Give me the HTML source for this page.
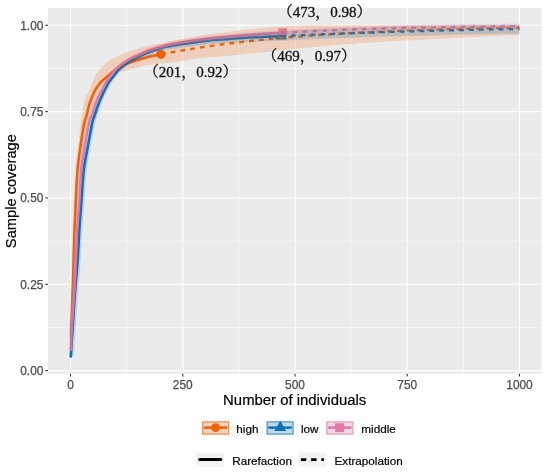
<!DOCTYPE html>
<html><head><meta charset="utf-8"><title>Sample coverage</title>
<style>html,body{margin:0;padding:0;background:#fff;overflow:hidden}svg{display:block}</style>
</head><body>
<svg width="550" height="472" viewBox="0 0 550 472">
<rect x="0" y="0" width="550" height="472" fill="#FFFFFF"/>
<defs><clipPath id="pc"><rect x="48" y="7.9" width="493.6" height="365.9"/></clipPath></defs>
<rect x="48" y="7.9" width="493.6" height="365.9" fill="#EBEBEB"/>
<g stroke="#FFFFFF" stroke-width="0.55"><line x1="48" y1="327.44" x2="541.6" y2="327.44"/><line x1="48" y1="241.11" x2="541.6" y2="241.11"/><line x1="48" y1="154.79" x2="541.6" y2="154.79"/><line x1="48" y1="68.46" x2="541.6" y2="68.46"/><line x1="126.62" y1="7.9" x2="126.62" y2="373.8"/><line x1="238.88" y1="7.9" x2="238.88" y2="373.8"/><line x1="351.12" y1="7.9" x2="351.12" y2="373.8"/><line x1="463.38" y1="7.9" x2="463.38" y2="373.8"/></g>
<g stroke="#FFFFFF" stroke-width="1.1"><line x1="48" y1="370.6" x2="541.6" y2="370.6"/><line x1="48" y1="284.28" x2="541.6" y2="284.28"/><line x1="48" y1="197.95" x2="541.6" y2="197.95"/><line x1="48" y1="111.62" x2="541.6" y2="111.62"/><line x1="48" y1="25.3" x2="541.6" y2="25.3"/><line x1="70.5" y1="7.9" x2="70.5" y2="373.8"/><line x1="182.75" y1="7.9" x2="182.75" y2="373.8"/><line x1="295" y1="7.9" x2="295" y2="373.8"/><line x1="407.25" y1="7.9" x2="407.25" y2="373.8"/><line x1="519.5" y1="7.9" x2="519.5" y2="373.8"/></g>
<g clip-path="url(#pc)">
<circle cx="161" cy="54.32" r="4.6" fill="#F56000"/>
<polygon points="281,29.31 286.93,39.57 275.07,39.57" fill="#0873BE"/>
<rect x="278.4" y="28.3" width="8.6" height="8.6" fill="#E678A5"/>
<path d="M71,338 C71.05,336 71.02,334 71.3,326 C71.58,318 72.32,301 72.7,290 C73.08,279 73.3,270 73.6,260 C73.9,250 74.13,240 74.5,230 C74.87,220 75.3,210 75.8,200 C76.3,190 76.68,179.17 77.5,170 C78.32,160.83 79.6,152.67 80.7,145 C81.8,137.33 83.13,128.83 84.1,124 C85.07,119.17 85.6,119.33 86.5,116 C87.4,112.67 88.22,108 89.5,104 C90.78,100 93,94.7 94.2,92 C95.4,89.3 95.6,89.43 96.7,87.8 C97.8,86.17 99.45,83.73 100.8,82.2 C102.15,80.67 103.48,79.75 104.8,78.6 C106.12,77.45 107.42,76.42 108.7,75.3 C109.98,74.18 111.07,73.07 112.5,71.9 C113.93,70.73 115.88,69.3 117.3,68.3 C118.72,67.3 119.55,66.65 121,65.9 C122.45,65.15 124.5,64.37 126,63.8 C127.5,63.23 128.33,63.03 130,62.5 C131.67,61.97 133.83,61.27 136,60.6 C138.17,59.93 140.67,59.18 143,58.5 C145.33,57.82 147.83,57.05 150,56.5 C152.17,55.95 154.17,55.56 156,55.2 C157.83,54.84 160.17,54.46 161,54.32" fill="none" stroke="#F56000" stroke-width="2.6" stroke-linejoin="round" stroke-linecap="round"/>
<path d="M70.8,356.5 C70.92,354.58 71.17,350.08 71.5,345 C71.83,339.92 72.18,335.17 72.8,326 C73.42,316.83 74.38,301 75.2,290 C76.02,279 77.02,270 77.7,260 C78.38,250 78.67,240 79.3,230 C79.93,220 80.75,210 81.5,200 C82.25,190 82.7,179.17 83.8,170 C84.9,160.83 86.67,153 88.1,145 C89.53,137 91.35,126.83 92.4,122 C93.45,117.17 93.38,119 94.4,116 C95.42,113 97.03,107.83 98.5,104 C99.97,100.17 101.95,95.75 103.2,93 C104.45,90.25 105.03,89.33 106,87.5 C106.97,85.67 107.72,83.92 109,82 C110.28,80.08 112.13,78 113.7,76 C115.27,74 116.68,71.75 118.4,70 C120.12,68.25 122.07,66.95 124,65.5 C125.93,64.05 128,62.55 130,61.3 C132,60.05 132.67,59.57 136,58 C139.33,56.43 145.17,53.73 150,51.9 C154.83,50.07 159.17,48.37 165,47 C170.83,45.63 178.33,44.72 185,43.7 C191.67,42.68 198.33,41.63 205,40.9 C211.67,40.17 218.33,39.82 225,39.3 C231.67,38.78 238.33,38.22 245,37.8 C251.67,37.38 259,37.08 265,36.8 C271,36.52 278.33,36.26 281,36.15" fill="none" stroke="#0873BE" stroke-width="2.6" stroke-linejoin="round" stroke-linecap="round"/>
<path d="M71,350 C71.15,346 71.32,336 71.9,326 C72.48,316 73.85,301 74.5,290 C75.15,279 75.37,270 75.8,260 C76.23,250 76.5,240 77.1,230 C77.7,220 78.72,210 79.4,200 C80.08,190 80.27,179.17 81.2,170 C82.13,160.83 83.58,153.33 85,145 C86.42,136.67 88.6,124.83 89.7,120 C90.8,115.17 90.65,118.67 91.6,116 C92.55,113.33 93.93,107.83 95.4,104 C96.87,100.17 99.05,95.75 100.4,93 C101.75,90.25 102.5,89.33 103.5,87.5 C104.5,85.67 105.32,83.83 106.4,82 C107.48,80.17 108.55,78.5 110,76.5 C111.45,74.5 113.6,71.67 115.1,70 C116.6,68.33 117.52,67.73 119,66.5 C120.48,65.27 122.17,63.87 124,62.6 C125.83,61.33 128,60 130,58.9 C132,57.8 132.67,57.48 136,56 C139.33,54.52 146,51.5 150,50 C154,48.5 156.67,47.9 160,47 C163.33,46.1 165.83,45.47 170,44.6 C174.17,43.73 179.17,42.73 185,41.8 C190.83,40.87 198.33,39.8 205,39 C211.67,38.2 218.33,37.62 225,37 C231.67,36.38 238.33,35.83 245,35.3 C251.67,34.77 258.72,34.22 265,33.8 C271.28,33.38 279.75,32.97 282.7,32.8" fill="none" stroke="#E678A5" stroke-width="2.6" stroke-linejoin="round" stroke-linecap="round"/>
<path d="M161,54.32 L163,53.93 L165,53.54 L167,53.16 L169,52.79 L171,52.41 L173,52.05 L175,51.69 L177,51.33 L179,50.98 L181,50.63 L183,50.29 L185,49.95 L187,49.61 L189,49.28 L191,48.96 L193,48.64 L195,48.32 L197,48.01 L199,47.7 L201,47.39 L203,47.09 L205,46.79 L207,46.5 L209,46.21 L211,45.92 L213,45.64 L215,45.36 L217,45.09 L219,44.82 L221,44.55 L223,44.29 L225,44.03 L227,43.77 L229,43.52 L231,43.27 L233,43.02 L235,42.78 L237,42.54 L239,42.3 L241,42.07 L243,41.84 L245,41.61 L247,41.39 L249,41.17 L251,40.95 L253,40.73 L255,40.52 L257,40.31 L259,40.11 L261,39.9 L263,39.7 L265,39.5 L267,39.31 L269,39.11 L271,38.92 L273,38.74 L275,38.55 L277,38.37 L279,38.19 L281,38.01 L283,37.83 L285,37.66 L287,37.49 L289,37.32 L291,37.16 L293,36.99 L295,36.83 L297,36.67 L299,36.51 L301,36.36 L303,36.21 L305,36.06 L307,35.91 L309,35.76 L311,35.62 L313,35.47 L315,35.33 L317,35.19 L319,35.06 L321,34.92 L323,34.79 L325,34.66 L327,34.53 L329,34.4 L331,34.28 L333,34.15 L335,34.03 L337,33.91 L339,33.79 L341,33.67 L343,33.56 L345,33.44 L347,33.33 L349,33.22 L351,33.11 L353,33 L355,32.89 L357,32.79 L359,32.68 L361,32.58 L363,32.48 L365,32.38 L367,32.28 L369,32.19 L371,32.09 L373,32 L375,31.9 L377,31.81 L379,31.72 L381,31.63 L383,31.55 L385,31.46 L387,31.37 L389,31.29 L391,31.21 L393,31.12 L395,31.04 L397,30.96 L399,30.89 L401,30.81 L403,30.73 L405,30.66 L407,30.58 L409,30.51 L411,30.44 L413,30.36 L415,30.29 L417,30.23 L419,30.16 L421,30.09 L423,30.02 L425,29.96 L427,29.89 L429,29.83 L431,29.77 L433,29.7 L435,29.64 L437,29.58 L439,29.52 L441,29.47 L443,29.41 L445,29.35 L447,29.29 L449,29.24 L451,29.18 L453,29.13 L455,29.08 L457,29.02 L459,28.97 L461,28.92 L463,28.87 L465,28.82 L467,28.77 L469,28.72 L471,28.68 L473,28.63 L475,28.58 L477,28.54 L479,28.49 L481,28.45 L483,28.41 L485,28.36 L487,28.32 L489,28.28 L491,28.24 L493,28.2 L495,28.16 L497,28.12 L499,28.08 L501,28.04 L503,28 L505,27.96 L507,27.93 L509,27.89 L511,27.85 L513,27.82 L515,27.78 L517,27.75 L519,27.71 L519.5,27.71" fill="none" stroke="#F56000" stroke-width="2.4" stroke-dasharray="4.8 5.1" stroke-linejoin="round"/>
<path d="M281,36.15 L283,36.05 L285,35.95 L287,35.86 L289,35.76 L291,35.67 L293,35.57 L295,35.48 L297,35.39 L299,35.29 L301,35.2 L303,35.11 L305,35.02 L307,34.94 L309,34.85 L311,34.76 L313,34.67 L315,34.59 L317,34.51 L319,34.42 L321,34.34 L323,34.26 L325,34.17 L327,34.09 L329,34.01 L331,33.93 L333,33.86 L335,33.78 L337,33.7 L339,33.63 L341,33.55 L343,33.47 L345,33.4 L347,33.33 L349,33.25 L351,33.18 L353,33.11 L355,33.04 L357,32.97 L359,32.9 L361,32.83 L363,32.76 L365,32.69 L367,32.63 L369,32.56 L371,32.49 L373,32.43 L375,32.36 L377,32.3 L379,32.24 L381,32.17 L383,32.11 L385,32.05 L387,31.99 L389,31.93 L391,31.87 L393,31.81 L395,31.75 L397,31.69 L399,31.63 L401,31.57 L403,31.52 L405,31.46 L407,31.4 L409,31.35 L411,31.29 L413,31.24 L415,31.18 L417,31.13 L419,31.08 L421,31.02 L423,30.97 L425,30.92 L427,30.87 L429,30.82 L431,30.77 L433,30.72 L435,30.67 L437,30.62 L439,30.57 L441,30.53 L443,30.48 L445,30.43 L447,30.38 L449,30.34 L451,30.29 L453,30.25 L455,30.2 L457,30.16 L459,30.11 L461,30.07 L463,30.03 L465,29.98 L467,29.94 L469,29.9 L471,29.86 L473,29.81 L475,29.77 L477,29.73 L479,29.69 L481,29.65 L483,29.61 L485,29.57 L487,29.54 L489,29.5 L491,29.46 L493,29.42 L495,29.38 L497,29.35 L499,29.31 L501,29.27 L503,29.24 L505,29.2 L507,29.17 L509,29.13 L511,29.1 L513,29.06 L515,29.03 L517,28.99 L519,28.96 L519.5,28.95" fill="none" stroke="#0873BE" stroke-width="2.4" stroke-dasharray="4.8 5.1" stroke-linejoin="round"/>
<path d="M282.7,32.8 L284.7,32.67 L286.7,32.55 L288.7,32.43 L290.7,32.31 L292.7,32.19 L294.7,32.07 L296.7,31.96 L298.7,31.85 L300.7,31.74 L302.7,31.63 L304.7,31.52 L306.7,31.42 L308.7,31.32 L310.7,31.22 L312.7,31.12 L314.7,31.02 L316.7,30.92 L318.7,30.83 L320.7,30.74 L322.7,30.64 L324.7,30.55 L326.7,30.47 L328.7,30.38 L330.7,30.29 L332.7,30.21 L334.7,30.13 L336.7,30.05 L338.7,29.97 L340.7,29.89 L342.7,29.81 L344.7,29.74 L346.7,29.66 L348.7,29.59 L350.7,29.52 L352.7,29.45 L354.7,29.38 L356.7,29.31 L358.7,29.24 L360.7,29.17 L362.7,29.11 L364.7,29.05 L366.7,28.98 L368.7,28.92 L370.7,28.86 L372.7,28.8 L374.7,28.74 L376.7,28.68 L378.7,28.63 L380.7,28.57 L382.7,28.52 L384.7,28.46 L386.7,28.41 L388.7,28.36 L390.7,28.31 L392.7,28.25 L394.7,28.21 L396.7,28.16 L398.7,28.11 L400.7,28.06 L402.7,28.02 L404.7,27.97 L406.7,27.92 L408.7,27.88 L410.7,27.84 L412.7,27.79 L414.7,27.75 L416.7,27.71 L418.7,27.67 L420.7,27.63 L422.7,27.59 L424.7,27.55 L426.7,27.52 L428.7,27.48 L430.7,27.44 L432.7,27.41 L434.7,27.37 L436.7,27.34 L438.7,27.3 L440.7,27.27 L442.7,27.24 L444.7,27.2 L446.7,27.17 L448.7,27.14 L450.7,27.11 L452.7,27.08 L454.7,27.05 L456.7,27.02 L458.7,26.99 L460.7,26.96 L462.7,26.93 L464.7,26.91 L466.7,26.88 L468.7,26.85 L470.7,26.83 L472.7,26.8 L474.7,26.78 L476.7,26.75 L478.7,26.73 L480.7,26.7 L482.7,26.68 L484.7,26.66 L486.7,26.63 L488.7,26.61 L490.7,26.59 L492.7,26.57 L494.7,26.55 L496.7,26.53 L498.7,26.5 L500.7,26.48 L502.7,26.46 L504.7,26.44 L506.7,26.43 L508.7,26.41 L510.7,26.39 L512.7,26.37 L514.7,26.35 L516.7,26.33 L518.7,26.32 L519.5,26.31" fill="none" stroke="#E678A5" stroke-width="2.4" stroke-dasharray="4.8 5.1" stroke-linejoin="round"/>
<path d="M70.9,336 C71,330 71.23,312.67 71.5,300 C71.77,287.33 72.08,273.33 72.5,260 C72.92,246.67 73.42,235 74,220 C74.58,205 75.23,182.5 76,170 C76.77,157.5 77.73,153.33 78.6,145 C79.47,136.67 80.35,126.67 81.2,120 C82.05,113.33 82.95,108.83 83.7,105 C84.45,101.17 84.68,99.58 85.7,97 C86.72,94.42 88.38,92.62 89.8,89.5 C91.22,86.38 92.8,81.28 94.2,78.3 C95.6,75.32 96.57,73.85 98.2,71.6 C99.83,69.35 102.45,66.43 104,64.8 C105.55,63.17 106.33,62.67 107.5,61.8 C108.67,60.93 109.67,60.35 111,59.6 C112.33,58.85 113.85,58.08 115.5,57.3 C117.15,56.52 118.98,55.73 120.9,54.9 C122.82,54.07 124.65,53.18 127,52.3 C129.35,51.42 132,50.58 135,49.6 C138,48.62 141.67,47.27 145,46.4 C148.33,45.53 151.67,45.07 155,44.4 C158.33,43.73 160,43.38 165,42.4 C170,41.42 178.33,39.73 185,38.5 C191.67,37.27 198.33,36.05 205,35 C211.67,33.95 218.33,33.07 225,32.2 C231.67,31.33 238.33,30.53 245,29.8 C251.67,29.07 259.17,28.33 265,27.8 C270.83,27.27 274.17,26.97 280,26.6 C285.83,26.23 294.17,25.82 300,25.6 C305.83,25.38 278.42,25.35 315,25.3 C351.58,25.25 485.42,25.3 519.5,25.3 L519.5,35 C515.42,35.15 507.42,35.33 495,35.9 C482.58,36.47 459.17,37.67 445,38.4 C430.83,39.13 422.5,39.6 410,40.3 C397.5,41 383.33,41.68 370,42.6 C356.67,43.52 340,45 330,45.8 C320,46.6 316.67,46.83 310,47.4 C303.33,47.97 296.67,48.53 290,49.2 C283.33,49.87 276.67,50.67 270,51.4 C263.33,52.13 257.5,52.82 250,53.6 C242.5,54.38 233.33,55.33 225,56.1 C216.67,56.87 206.67,57.48 200,58.2 C193.33,58.92 190,59.67 185,60.4 C180,61.13 174.67,62 170,62.6 C165.33,63.2 161.17,63.5 157,64 C152.83,64.5 148.67,64.83 145,65.6 C141.33,66.37 138,67.83 135,68.6 C132,69.37 129.25,69.7 127,70.2 C124.75,70.7 123.25,71.43 121.5,71.6 C119.75,71.77 118.7,70.38 116.5,71.2 C114.3,72.02 110.27,74.7 108.3,76.5 C106.33,78.3 105.78,80.17 104.7,82 C103.62,83.83 102.8,85.67 101.8,87.5 C100.8,89.33 100.05,90.25 98.7,93 C97.35,95.75 95.17,100.17 93.7,104 C92.23,107.83 90.85,113.33 89.9,116 C88.95,118.67 89.1,115.17 88,120 C86.9,124.83 84.72,136.67 83.3,145 C81.88,153.33 80.43,160.83 79.5,170 C78.57,179.17 78.38,190 77.7,200 C77.02,210 76,220 75.4,230 C74.8,240 74.53,250 74.1,260 C73.67,270 73.45,279 72.8,290 C72.15,301 70.5,316.83 70.2,326 C69.9,335.17 70.87,341.83 71,345 Z" fill="#F56000" fill-opacity="0.2" stroke="none"/>
<path d="M69.4,356.5 C69.52,354.58 69.77,350.08 70.1,345 C70.43,339.92 70.78,335.17 71.4,326 C72.02,316.83 72.98,301 73.8,290 C74.62,279 75.62,270 76.3,260 C76.98,250 77.27,240 77.9,230 C78.53,220 79.35,210 80.1,200 C80.85,190 81.3,179.17 82.4,170 C83.5,160.83 85.27,153 86.7,145 C88.13,137 89.95,126.83 91,122 C92.05,117.17 91.98,119 93,116 C94.02,113 95.63,107.83 97.1,104 C98.57,100.17 100.55,95.75 101.8,93 C103.05,90.25 103.63,89.33 104.6,87.5 C105.57,85.67 106.3,83.96 107.6,82 C108.9,80.04 110.81,77.85 112.43,75.76 C114.05,73.67 115.52,71.32 117.29,69.45 C119.07,67.59 121.09,66.17 123.09,64.59 C125.09,63.01 127.23,61.38 129.3,60 C131.37,58.62 132.06,58.09 135.51,56.31 C138.96,54.53 145.09,51.28 150,49.3 C154.91,47.31 159.17,45.85 165,44.4 C170.83,42.95 178.33,41.77 185,40.6 C191.67,39.43 198.33,38.27 205,37.4 C211.67,36.53 218.33,36.02 225,35.4 C231.67,34.78 238.33,34.23 245,33.7 C251.67,33.17 259,32.6 265,32.2 C271,31.8 278,31.46 281,31.29 C284,31.12 282.33,31.22 283,31.18 C283.67,31.14 284.33,31.1 285,31.05 C285.67,31.01 286.33,30.97 287,30.93 C287.67,30.89 288.33,30.85 289,30.81 C289.67,30.77 290.33,30.73 291,30.69 C291.67,30.65 292.33,30.61 293,30.57 C293.67,30.53 294.33,30.5 295,30.46 C295.67,30.42 296.33,30.38 297,30.34 C297.67,30.31 298.33,30.27 299,30.23 C299.67,30.2 300.33,30.16 301,30.12 C301.67,30.09 302.33,30.05 303,30.01 C303.67,29.98 304.33,29.94 305,29.91 C305.67,29.87 306.33,29.84 307,29.8 C307.67,29.77 308.33,29.74 309,29.7 C309.67,29.67 310.33,29.63 311,29.6 C311.67,29.57 312.33,29.53 313,29.5 C313.67,29.47 314.33,29.44 315,29.4 C315.67,29.37 316.33,29.34 317,29.31 C317.67,29.28 318.33,29.25 319,29.21 C319.67,29.18 320.33,29.15 321,29.12 C321.67,29.09 322.33,29.06 323,29.03 C323.67,29 324.33,28.97 325,28.94 C325.67,28.91 326.33,28.88 327,28.85 C327.67,28.82 328.33,28.8 329,28.77 C329.67,28.74 330.33,28.71 331,28.68 C331.67,28.65 332.33,28.63 333,28.6 C333.67,28.57 334.33,28.54 335,28.52 C335.67,28.49 336.33,28.46 337,28.44 C337.67,28.41 338.33,28.38 339,28.36 C339.67,28.33 340.33,28.3 341,28.28 C341.67,28.25 342.33,28.23 343,28.2 C343.67,28.18 344.33,28.15 345,28.13 C345.67,28.1 346.33,28.08 347,28.05 C347.67,28.03 348.33,28 349,27.98 C349.67,27.95 350.33,27.93 351,27.91 C351.67,27.88 352.33,27.86 353,27.84 C353.67,27.81 354.33,27.79 355,27.77 C355.67,27.74 356.33,27.72 357,27.7 C357.67,27.68 358.33,27.65 359,27.63 C359.67,27.61 360.33,27.59 361,27.56 C361.67,27.54 362.33,27.52 363,27.5 C363.67,27.48 364.33,27.46 365,27.44 C365.67,27.41 366.33,27.39 367,27.37 C367.67,27.35 368.33,27.33 369,27.31 C369.67,27.29 370.33,27.27 371,27.25 C371.67,27.23 372.33,27.21 373,27.19 C373.67,27.17 374.33,27.15 375,27.13 C375.67,27.11 376.33,27.09 377,27.08 C377.67,27.06 378.33,27.04 379,27.02 C379.67,27 380.33,26.98 381,26.96 C381.67,26.94 382.33,26.93 383,26.91 C383.67,26.89 384.33,26.87 385,26.85 C385.67,26.84 386.33,26.82 387,26.8 C387.67,26.78 388.33,26.77 389,26.75 C389.67,26.73 390.33,26.71 391,26.7 C391.67,26.68 392.33,26.66 393,26.65 C393.67,26.63 394.33,26.61 395,26.6 C395.67,26.58 396.33,26.57 397,26.55 C397.67,26.53 398.33,26.52 399,26.5 C399.67,26.49 400.33,26.47 401,26.45 C401.67,26.44 402.33,26.42 403,26.41 C403.67,26.39 404.33,26.38 405,26.36 C405.67,26.35 406.33,26.33 407,26.32 C407.67,26.3 408.33,26.29 409,26.27 C409.67,26.26 410.33,26.25 411,26.23 C411.67,26.22 412.33,26.2 413,26.19 C413.67,26.17 414.33,26.16 415,26.15 C415.67,26.13 416.33,26.12 417,26.11 C417.67,26.09 418.33,26.08 419,26.07 C419.67,26.05 420.33,26.04 421,26.03 C421.67,26.01 422.33,26 423,25.99 C423.67,25.97 424.33,25.96 425,25.95 C425.67,25.94 426.33,25.92 427,25.91 C427.67,25.9 428.33,25.89 429,25.87 C429.67,25.86 430.33,25.85 431,25.84 C431.67,25.82 432.33,25.81 433,25.8 C433.67,25.79 434.33,25.78 435,25.77 C435.67,25.75 436.33,25.74 437,25.73 C437.67,25.72 438.33,25.71 439,25.7 C439.67,25.69 440.33,25.67 441,25.66 C441.67,25.65 442.33,25.64 443,25.63 C443.67,25.62 444.33,25.61 445,25.6 C445.67,25.59 446.33,25.58 447,25.57 C447.67,25.56 448.33,25.55 449,25.53 C449.67,25.52 450.33,25.51 451,25.5 C451.67,25.49 452.33,25.48 453,25.47 C453.67,25.46 454.33,25.45 455,25.44 C455.67,25.43 456.33,25.42 457,25.41 C457.67,25.4 458.33,25.4 459,25.39 C459.67,25.38 460.33,25.37 461,25.36 C461.67,25.35 462.33,25.34 463,25.33 C463.67,25.32 464.33,25.31 465,25.3 C465.67,25.29 466.33,25.28 467,25.28 C467.67,25.27 468.33,25.26 469,25.25 C469.67,25.24 470.33,25.23 471,25.22 C471.67,25.21 472.33,25.21 473,25.2 C473.67,25.19 474.33,25.18 475,25.17 C475.67,25.16 476.33,25.16 477,25.15 C477.67,25.14 478.33,25.13 479,25.12 C479.67,25.12 480.33,25.11 481,25.1 C481.67,25.09 482.33,25.08 483,25.08 C483.67,25.07 484.33,25.06 485,25.05 C485.67,25.05 486.33,25.04 487,25.03 C487.67,25.02 488.33,25.02 489,25.01 C489.67,25 490.33,24.99 491,24.99 C491.67,24.98 492.33,24.97 493,24.96 C493.67,24.96 494.33,24.95 495,24.94 C495.67,24.94 496.33,24.93 497,24.92 C497.67,24.92 498.33,24.91 499,24.9 C499.67,24.89 500.33,24.89 501,24.88 C501.67,24.87 502.33,24.87 503,24.86 C503.67,24.86 504.33,24.85 505,24.84 C505.67,24.84 506.33,24.83 507,24.82 C507.67,24.82 508.33,24.81 509,24.8 C509.67,24.8 510.33,24.79 511,24.79 C511.67,24.78 512.33,24.77 513,24.77 C513.67,24.76 514.33,24.76 515,24.75 C515.67,24.74 516.33,24.74 517,24.73 C517.67,24.73 518.58,24.72 519,24.71 C519.42,24.71 519.42,24.71 519.5,24.71 L519.5,33.55 C519.42,33.55 519.42,33.55 519,33.56 C518.58,33.57 517.67,33.58 517,33.59 C516.33,33.6 515.67,33.62 515,33.63 C514.33,33.64 513.67,33.65 513,33.66 C512.33,33.67 511.67,33.68 511,33.7 C510.33,33.71 509.67,33.72 509,33.73 C508.33,33.74 507.67,33.75 507,33.77 C506.33,33.78 505.67,33.79 505,33.8 C504.33,33.81 503.67,33.82 503,33.84 C502.33,33.85 501.67,33.86 501,33.87 C500.33,33.88 499.67,33.9 499,33.91 C498.33,33.92 497.67,33.93 497,33.95 C496.33,33.96 495.67,33.97 495,33.98 C494.33,34 493.67,34.01 493,34.02 C492.33,34.03 491.67,34.05 491,34.06 C490.33,34.07 489.67,34.08 489,34.1 C488.33,34.11 487.67,34.12 487,34.14 C486.33,34.15 485.67,34.16 485,34.17 C484.33,34.19 483.67,34.2 483,34.21 C482.33,34.23 481.67,34.24 481,34.25 C480.33,34.27 479.67,34.28 479,34.29 C478.33,34.31 477.67,34.32 477,34.33 C476.33,34.35 475.67,34.36 475,34.37 C474.33,34.39 473.67,34.4 473,34.41 C472.33,34.43 471.67,34.44 471,34.46 C470.33,34.47 469.67,34.48 469,34.5 C468.33,34.51 467.67,34.53 467,34.54 C466.33,34.55 465.67,34.57 465,34.58 C464.33,34.6 463.67,34.61 463,34.63 C462.33,34.64 461.67,34.65 461,34.67 C460.33,34.68 459.67,34.7 459,34.71 C458.33,34.73 457.67,34.74 457,34.76 C456.33,34.77 455.67,34.79 455,34.8 C454.33,34.82 453.67,34.83 453,34.85 C452.33,34.86 451.67,34.88 451,34.89 C450.33,34.91 449.67,34.92 449,34.94 C448.33,34.95 447.67,34.97 447,34.98 C446.33,35 445.67,35.01 445,35.03 C444.33,35.05 443.67,35.06 443,35.08 C442.33,35.09 441.67,35.11 441,35.13 C440.33,35.14 439.67,35.16 439,35.17 C438.33,35.19 437.67,35.21 437,35.22 C436.33,35.24 435.67,35.25 435,35.27 C434.33,35.29 433.67,35.3 433,35.32 C432.33,35.34 431.67,35.35 431,35.37 C430.33,35.39 429.67,35.4 429,35.42 C428.33,35.44 427.67,35.45 427,35.47 C426.33,35.49 425.67,35.5 425,35.52 C424.33,35.54 423.67,35.56 423,35.57 C422.33,35.59 421.67,35.61 421,35.62 C420.33,35.64 419.67,35.66 419,35.68 C418.33,35.69 417.67,35.71 417,35.73 C416.33,35.75 415.67,35.77 415,35.78 C414.33,35.8 413.67,35.82 413,35.84 C412.33,35.86 411.67,35.87 411,35.89 C410.33,35.91 409.67,35.93 409,35.95 C408.33,35.97 407.67,35.98 407,36 C406.33,36.02 405.67,36.04 405,36.06 C404.33,36.08 403.67,36.1 403,36.12 C402.33,36.13 401.67,36.15 401,36.17 C400.33,36.19 399.67,36.21 399,36.23 C398.33,36.25 397.67,36.27 397,36.29 C396.33,36.31 395.67,36.33 395,36.35 C394.33,36.37 393.67,36.39 393,36.41 C392.33,36.43 391.67,36.45 391,36.47 C390.33,36.49 389.67,36.51 389,36.53 C388.33,36.55 387.67,36.57 387,36.59 C386.33,36.61 385.67,36.63 385,36.65 C384.33,36.67 383.67,36.69 383,36.71 C382.33,36.73 381.67,36.75 381,36.77 C380.33,36.79 379.67,36.81 379,36.84 C378.33,36.86 377.67,36.88 377,36.9 C376.33,36.92 375.67,36.94 375,36.96 C374.33,36.98 373.67,37.01 373,37.03 C372.33,37.05 371.67,37.07 371,37.09 C370.33,37.12 369.67,37.14 369,37.16 C368.33,37.18 367.67,37.2 367,37.23 C366.33,37.25 365.67,37.27 365,37.29 C364.33,37.32 363.67,37.34 363,37.36 C362.33,37.38 361.67,37.41 361,37.43 C360.33,37.45 359.67,37.48 359,37.5 C358.33,37.52 357.67,37.54 357,37.57 C356.33,37.59 355.67,37.62 355,37.64 C354.33,37.66 353.67,37.69 353,37.71 C352.33,37.73 351.67,37.76 351,37.78 C350.33,37.81 349.67,37.83 349,37.85 C348.33,37.88 347.67,37.9 347,37.93 C346.33,37.95 345.67,37.98 345,38 C344.33,38.02 343.67,38.05 343,38.07 C342.33,38.1 341.67,38.12 341,38.15 C340.33,38.17 339.67,38.2 339,38.23 C338.33,38.25 337.67,38.28 337,38.3 C336.33,38.33 335.67,38.35 335,38.38 C334.33,38.4 333.67,38.43 333,38.46 C332.33,38.48 331.67,38.51 331,38.53 C330.33,38.56 329.67,38.59 329,38.61 C328.33,38.64 327.67,38.67 327,38.69 C326.33,38.72 325.67,38.75 325,38.77 C324.33,38.8 323.67,38.83 323,38.86 C322.33,38.88 321.67,38.91 321,38.94 C320.33,38.97 319.67,38.99 319,39.02 C318.33,39.05 317.67,39.08 317,39.11 C316.33,39.13 315.67,39.16 315,39.19 C314.33,39.22 313.67,39.25 313,39.27 C312.33,39.3 311.67,39.33 311,39.36 C310.33,39.39 309.67,39.42 309,39.45 C308.33,39.48 307.67,39.51 307,39.54 C306.33,39.56 305.67,39.59 305,39.62 C304.33,39.65 303.67,39.68 303,39.71 C302.33,39.74 301.67,39.77 301,39.8 C300.33,39.83 299.67,39.86 299,39.89 C298.33,39.92 297.67,39.95 297,39.99 C296.33,40.02 295.67,40.05 295,40.08 C294.33,40.11 293.67,40.14 293,40.17 C292.33,40.2 291.67,40.23 291,40.27 C290.33,40.3 289.67,40.33 289,40.36 C288.33,40.39 287.67,40.42 287,40.46 C286.33,40.49 285.67,40.52 285,40.55 C284.33,40.59 283.67,40.62 283,40.65 C282.33,40.68 284,40.64 281,40.75 C278,40.86 271,41.11 265,41.33 C259,41.55 251.67,41.74 245,42.07 C238.33,42.39 231.67,42.87 225,43.3 C218.33,43.73 211.67,43.99 205,44.63 C198.33,45.28 191.67,46.24 185,47.17 C178.33,48.09 170.83,48.91 165,50.2 C159.17,51.49 154.66,53.27 150,54.9 C145.34,56.52 140.13,58.63 137.05,59.95 C133.97,61.27 133.35,61.7 131.5,62.8 C129.65,63.9 127.74,65.25 125.95,66.55 C124.16,67.85 122.36,69.01 120.77,70.63 C119.18,72.25 117.88,74.38 116.42,76.28 C114.96,78.17 113.24,80.13 112,82 C110.76,83.87 109.97,85.67 109,87.5 C108.03,89.33 107.45,90.25 106.2,93 C104.95,95.75 102.97,100.17 101.5,104 C100.03,107.83 98.42,113 97.4,116 C96.38,119 96.45,117.17 95.4,122 C94.35,126.83 92.53,137 91.1,145 C89.67,153 87.9,160.83 86.8,170 C85.7,179.17 85.25,190 84.5,200 C83.75,210 82.93,220 82.3,230 C81.67,240 81.38,250 80.7,260 C80.02,270 79.02,279 78.2,290 C77.38,301 76.42,316.83 75.8,326 C75.18,335.17 74.83,339.92 74.5,345 C74.17,350.08 73.92,354.58 73.8,356.5 Z" fill="#0873BE" fill-opacity="0.2" stroke="none"/>
<path d="M68.6,350 C68.75,346 68.92,336 69.5,326 C70.08,316 71.45,301 72.1,290 C72.75,279 72.97,270 73.4,260 C73.83,250 74.1,240 74.7,230 C75.3,220 76.32,210 77,200 C77.68,190 77.87,179.17 78.8,170 C79.73,160.83 81.18,153.33 82.6,145 C84.02,136.67 86.2,124.83 87.3,120 C88.4,115.17 88.25,118.67 89.2,116 C90.15,113.33 91.53,107.83 93,104 C94.47,100.17 96.65,95.75 98,93 C99.35,90.25 100.1,89.33 101.1,87.5 C102.1,85.67 102.92,83.83 104,82 C105.08,80.17 106.1,78.56 107.6,76.5 C109.1,74.44 111.42,71.41 113.01,69.64 C114.6,67.87 115.57,67.21 117.14,65.87 C118.71,64.53 120.5,63.02 122.44,61.62 C124.38,60.23 126.68,58.74 128.8,57.5 C130.92,56.26 131.63,55.9 135.16,54.18 C138.69,52.46 145.86,48.86 150,47.2 C154.14,45.54 156.67,45.1 160,44.2 C163.33,43.3 165.83,42.67 170,41.8 C174.17,40.93 179.17,39.93 185,39 C190.83,38.07 198.33,37 205,36.2 C211.67,35.4 218.33,34.82 225,34.2 C231.67,33.58 238.33,33.03 245,32.5 C251.67,31.97 258.72,31.42 265,31 C271.28,30.58 279.42,30.19 282.7,30 C285.98,29.81 284.03,29.91 284.7,29.87 C285.37,29.83 286.03,29.79 286.7,29.75 C287.37,29.71 288.03,29.67 288.7,29.63 C289.37,29.59 290.03,29.55 290.7,29.51 C291.37,29.47 292.03,29.43 292.7,29.39 C293.37,29.35 294.03,29.31 294.7,29.27 C295.37,29.24 296.03,29.2 296.7,29.16 C297.37,29.12 298.03,29.09 298.7,29.05 C299.37,29.01 300.03,28.98 300.7,28.94 C301.37,28.9 302.03,28.87 302.7,28.83 C303.37,28.79 304.03,28.76 304.7,28.72 C305.37,28.69 306.03,28.65 306.7,28.62 C307.37,28.59 308.03,28.55 308.7,28.52 C309.37,28.48 310.03,28.45 310.7,28.42 C311.37,28.38 312.03,28.35 312.7,28.32 C313.37,28.28 314.03,28.25 314.7,28.22 C315.37,28.19 316.03,28.15 316.7,28.12 C317.37,28.09 318.03,28.06 318.7,28.03 C319.37,28 320.03,27.97 320.7,27.94 C321.37,27.91 322.03,27.87 322.7,27.84 C323.37,27.81 324.03,27.78 324.7,27.75 C325.37,27.73 326.03,27.7 326.7,27.67 C327.37,27.64 328.03,27.61 328.7,27.58 C329.37,27.55 330.03,27.52 330.7,27.49 C331.37,27.47 332.03,27.44 332.7,27.41 C333.37,27.38 334.03,27.36 334.7,27.33 C335.37,27.3 336.03,27.27 336.7,27.25 C337.37,27.22 338.03,27.19 338.7,27.17 C339.37,27.14 340.03,27.12 340.7,27.09 C341.37,27.06 342.03,27.04 342.7,27.01 C343.37,26.99 344.03,26.96 344.7,26.94 C345.37,26.91 346.03,26.89 346.7,26.86 C347.37,26.84 348.03,26.81 348.7,26.79 C349.37,26.76 350.03,26.74 350.7,26.72 C351.37,26.69 352.03,26.67 352.7,26.65 C353.37,26.62 354.03,26.6 354.7,26.58 C355.37,26.55 356.03,26.53 356.7,26.51 C357.37,26.49 358.03,26.46 358.7,26.44 C359.37,26.42 360.03,26.4 360.7,26.37 C361.37,26.35 362.03,26.33 362.7,26.31 C363.37,26.29 364.03,26.27 364.7,26.25 C365.37,26.22 366.03,26.2 366.7,26.18 C367.37,26.16 368.03,26.14 368.7,26.12 C369.37,26.1 370.03,26.08 370.7,26.06 C371.37,26.04 372.03,26.02 372.7,26 C373.37,25.98 374.03,25.96 374.7,25.94 C375.37,25.92 376.03,25.9 376.7,25.88 C377.37,25.86 378.03,25.85 378.7,25.83 C379.37,25.81 380.03,25.79 380.7,25.77 C381.37,25.75 382.03,25.73 382.7,25.72 C383.37,25.7 384.03,25.68 384.7,25.66 C385.37,25.64 386.03,25.63 386.7,25.61 C387.37,25.59 388.03,25.57 388.7,25.56 C389.37,25.54 390.03,25.52 390.7,25.51 C391.37,25.49 392.03,25.47 392.7,25.45 C393.37,25.44 394.03,25.42 394.7,25.41 C395.37,25.39 396.03,25.37 396.7,25.36 C397.37,25.34 398.03,25.32 398.7,25.31 C399.37,25.29 400.03,25.28 400.7,25.26 C401.37,25.25 402.03,25.23 402.7,25.22 C403.37,25.2 404.03,25.18 404.7,25.17 C405.37,25.15 406.03,25.14 406.7,25.12 C407.37,25.11 408.03,25.1 408.7,25.08 C409.37,25.07 410.03,25.05 410.7,25.04 C411.37,25.02 412.03,25.01 412.7,24.99 C413.37,24.98 414.03,24.97 414.7,24.95 C415.37,24.94 416.03,24.93 416.7,24.91 C417.37,24.9 418.03,24.88 418.7,24.87 C419.37,24.86 420.03,24.84 420.7,24.83 C421.37,24.82 422.03,24.81 422.7,24.79 C423.37,24.78 424.03,24.77 424.7,24.75 C425.37,24.74 426.03,24.73 426.7,24.72 C427.37,24.7 428.03,24.69 428.7,24.68 C429.37,24.67 430.03,24.65 430.7,24.64 C431.37,24.63 432.03,24.62 432.7,24.61 C433.37,24.59 434.03,24.58 434.7,24.57 C435.37,24.56 436.03,24.55 436.7,24.54 C437.37,24.52 438.03,24.51 438.7,24.5 C439.37,24.49 440.03,24.48 440.7,24.47 C441.37,24.46 442.03,24.45 442.7,24.44 C443.37,24.42 444.03,24.41 444.7,24.4 C445.37,24.39 446.03,24.38 446.7,24.37 C447.37,24.36 448.03,24.35 448.7,24.34 C449.37,24.33 450.03,24.32 450.7,24.31 C451.37,24.3 452.03,24.29 452.7,24.28 C453.37,24.27 454.03,24.26 454.7,24.25 C455.37,24.24 456.03,24.23 456.7,24.22 C457.37,24.21 458.03,24.2 458.7,24.19 C459.37,24.18 460.03,24.17 460.7,24.16 C461.37,24.15 462.03,24.14 462.7,24.13 C463.37,24.12 464.03,24.12 464.7,24.11 C465.37,24.1 466.03,24.09 466.7,24.08 C467.37,24.07 468.03,24.06 468.7,24.05 C469.37,24.04 470.03,24.04 470.7,24.03 C471.37,24.02 472.03,24.01 472.7,24 C473.37,23.99 474.03,23.98 474.7,23.98 C475.37,23.97 476.03,23.96 476.7,23.95 C477.37,23.94 478.03,23.93 478.7,23.93 C479.37,23.92 480.03,23.91 480.7,23.9 C481.37,23.89 482.03,23.89 482.7,23.88 C483.37,23.87 484.03,23.86 484.7,23.86 C485.37,23.85 486.03,23.84 486.7,23.83 C487.37,23.83 488.03,23.82 488.7,23.81 C489.37,23.8 490.03,23.8 490.7,23.79 C491.37,23.78 492.03,23.77 492.7,23.77 C493.37,23.76 494.03,23.75 494.7,23.75 C495.37,23.74 496.03,23.73 496.7,23.73 C497.37,23.72 498.03,23.71 498.7,23.7 C499.37,23.7 500.03,23.69 500.7,23.68 C501.37,23.68 502.03,23.67 502.7,23.66 C503.37,23.66 504.03,23.65 504.7,23.64 C505.37,23.64 506.03,23.63 506.7,23.63 C507.37,23.62 508.03,23.61 508.7,23.61 C509.37,23.6 510.03,23.59 510.7,23.59 C511.37,23.58 512.03,23.58 512.7,23.57 C513.37,23.56 514.03,23.56 514.7,23.55 C515.37,23.55 516.03,23.54 516.7,23.53 C517.37,23.53 518.23,23.52 518.7,23.52 C519.17,23.51 519.37,23.51 519.5,23.51 L519.5,28.71 C519.37,28.71 519.17,28.71 518.7,28.72 C518.23,28.72 517.37,28.73 516.7,28.73 C516.03,28.74 515.37,28.75 514.7,28.75 C514.03,28.76 513.37,28.76 512.7,28.77 C512.03,28.78 511.37,28.78 510.7,28.79 C510.03,28.79 509.37,28.8 508.7,28.81 C508.03,28.81 507.37,28.82 506.7,28.83 C506.03,28.83 505.37,28.84 504.7,28.84 C504.03,28.85 503.37,28.86 502.7,28.86 C502.03,28.87 501.37,28.88 500.7,28.88 C500.03,28.89 499.37,28.9 498.7,28.9 C498.03,28.91 497.37,28.92 496.7,28.93 C496.03,28.93 495.37,28.94 494.7,28.95 C494.03,28.95 493.37,28.96 492.7,28.97 C492.03,28.97 491.37,28.98 490.7,28.99 C490.03,29 489.37,29 488.7,29.01 C488.03,29.02 487.37,29.03 486.7,29.03 C486.03,29.04 485.37,29.05 484.7,29.06 C484.03,29.06 483.37,29.07 482.7,29.08 C482.03,29.09 481.37,29.09 480.7,29.1 C480.03,29.11 479.37,29.12 478.7,29.13 C478.03,29.13 477.37,29.14 476.7,29.15 C476.03,29.16 475.37,29.17 474.7,29.18 C474.03,29.18 473.37,29.19 472.7,29.2 C472.03,29.21 471.37,29.22 470.7,29.23 C470.03,29.24 469.37,29.24 468.7,29.25 C468.03,29.26 467.37,29.27 466.7,29.28 C466.03,29.29 465.37,29.3 464.7,29.31 C464.03,29.32 463.37,29.32 462.7,29.33 C462.03,29.34 461.37,29.35 460.7,29.36 C460.03,29.37 459.37,29.38 458.7,29.39 C458.03,29.4 457.37,29.41 456.7,29.42 C456.03,29.43 455.37,29.44 454.7,29.45 C454.03,29.46 453.37,29.47 452.7,29.48 C452.03,29.49 451.37,29.5 450.7,29.51 C450.03,29.52 449.37,29.53 448.7,29.54 C448.03,29.55 447.37,29.56 446.7,29.57 C446.03,29.58 445.37,29.59 444.7,29.6 C444.03,29.61 443.37,29.62 442.7,29.64 C442.03,29.65 441.37,29.66 440.7,29.67 C440.03,29.68 439.37,29.69 438.7,29.7 C438.03,29.71 437.37,29.72 436.7,29.74 C436.03,29.75 435.37,29.76 434.7,29.77 C434.03,29.78 433.37,29.79 432.7,29.81 C432.03,29.82 431.37,29.83 430.7,29.84 C430.03,29.85 429.37,29.87 428.7,29.88 C428.03,29.89 427.37,29.9 426.7,29.92 C426.03,29.93 425.37,29.94 424.7,29.95 C424.03,29.97 423.37,29.98 422.7,29.99 C422.03,30.01 421.37,30.02 420.7,30.03 C420.03,30.04 419.37,30.06 418.7,30.07 C418.03,30.08 417.37,30.1 416.7,30.11 C416.03,30.13 415.37,30.14 414.7,30.15 C414.03,30.17 413.37,30.18 412.7,30.19 C412.03,30.21 411.37,30.22 410.7,30.24 C410.03,30.25 409.37,30.27 408.7,30.28 C408.03,30.3 407.37,30.31 406.7,30.32 C406.03,30.34 405.37,30.35 404.7,30.37 C404.03,30.38 403.37,30.4 402.7,30.42 C402.03,30.43 401.37,30.45 400.7,30.46 C400.03,30.48 399.37,30.49 398.7,30.51 C398.03,30.52 397.37,30.54 396.7,30.56 C396.03,30.57 395.37,30.59 394.7,30.61 C394.03,30.62 393.37,30.64 392.7,30.65 C392.03,30.67 391.37,30.69 390.7,30.71 C390.03,30.72 389.37,30.74 388.7,30.76 C388.03,30.77 387.37,30.79 386.7,30.81 C386.03,30.83 385.37,30.84 384.7,30.86 C384.03,30.88 383.37,30.9 382.7,30.92 C382.03,30.93 381.37,30.95 380.7,30.97 C380.03,30.99 379.37,31.01 378.7,31.03 C378.03,31.05 377.37,31.06 376.7,31.08 C376.03,31.1 375.37,31.12 374.7,31.14 C374.03,31.16 373.37,31.18 372.7,31.2 C372.03,31.22 371.37,31.24 370.7,31.26 C370.03,31.28 369.37,31.3 368.7,31.32 C368.03,31.34 367.37,31.36 366.7,31.38 C366.03,31.4 365.37,31.42 364.7,31.45 C364.03,31.47 363.37,31.49 362.7,31.51 C362.03,31.53 361.37,31.55 360.7,31.57 C360.03,31.6 359.37,31.62 358.7,31.64 C358.03,31.66 357.37,31.69 356.7,31.71 C356.03,31.73 355.37,31.75 354.7,31.78 C354.03,31.8 353.37,31.82 352.7,31.85 C352.03,31.87 351.37,31.89 350.7,31.92 C350.03,31.94 349.37,31.96 348.7,31.99 C348.03,32.01 347.37,32.04 346.7,32.06 C346.03,32.09 345.37,32.11 344.7,32.14 C344.03,32.16 343.37,32.19 342.7,32.21 C342.03,32.24 341.37,32.26 340.7,32.29 C340.03,32.32 339.37,32.34 338.7,32.37 C338.03,32.39 337.37,32.42 336.7,32.45 C336.03,32.47 335.37,32.5 334.7,32.53 C334.03,32.56 333.37,32.58 332.7,32.61 C332.03,32.64 331.37,32.67 330.7,32.69 C330.03,32.72 329.37,32.75 328.7,32.78 C328.03,32.81 327.37,32.84 326.7,32.87 C326.03,32.9 325.37,32.93 324.7,32.95 C324.03,32.98 323.37,33.01 322.7,33.04 C322.03,33.07 321.37,33.11 320.7,33.14 C320.03,33.17 319.37,33.2 318.7,33.23 C318.03,33.26 317.37,33.29 316.7,33.32 C316.03,33.35 315.37,33.39 314.7,33.42 C314.03,33.45 313.37,33.48 312.7,33.52 C312.03,33.55 311.37,33.58 310.7,33.62 C310.03,33.65 309.37,33.68 308.7,33.72 C308.03,33.75 307.37,33.79 306.7,33.82 C306.03,33.85 305.37,33.89 304.7,33.92 C304.03,33.96 303.37,33.99 302.7,34.03 C302.03,34.07 301.37,34.1 300.7,34.14 C300.03,34.18 299.37,34.21 298.7,34.25 C298.03,34.29 297.37,34.32 296.7,34.36 C296.03,34.4 295.37,34.44 294.7,34.47 C294.03,34.51 293.37,34.55 292.7,34.59 C292.03,34.63 291.37,34.67 290.7,34.71 C290.03,34.75 289.37,34.79 288.7,34.83 C288.03,34.87 287.37,34.91 286.7,34.95 C286.03,34.99 285.37,35.03 284.7,35.07 C284.03,35.11 285.98,35.01 282.7,35.2 C279.42,35.39 271.28,35.78 265,36.2 C258.72,36.62 251.67,37.17 245,37.7 C238.33,38.23 231.67,38.78 225,39.4 C218.33,40.02 211.67,40.6 205,41.4 C198.33,42.2 190.83,43.27 185,44.2 C179.17,45.13 174.17,46.13 170,47 C165.83,47.87 163.33,48.5 160,49.4 C156.67,50.3 153.92,51.04 150,52.4 C146.08,53.76 139.71,56.28 136.49,57.56 C133.27,58.84 132.63,59.12 130.7,60.1 C128.77,61.08 126.68,62.28 124.91,63.44 C123.14,64.6 121.52,65.9 120.08,67.04 C118.65,68.18 117.77,68.73 116.32,70.31 C114.87,71.88 112.82,74.55 111.4,76.5 C109.98,78.45 108.88,80.17 107.8,82 C106.72,83.83 105.9,85.67 104.9,87.5 C103.9,89.33 103.15,90.25 101.8,93 C100.45,95.75 98.27,100.17 96.8,104 C95.33,107.83 93.95,113.33 93,116 C92.05,118.67 92.2,115.17 91.1,120 C90,124.83 87.82,136.67 86.4,145 C84.98,153.33 83.53,160.83 82.6,170 C81.67,179.17 81.48,190 80.8,200 C80.12,210 79.1,220 78.5,230 C77.9,240 77.63,250 77.2,260 C76.77,270 76.55,279 75.9,290 C75.25,301 73.88,316 73.3,326 C72.72,336 72.55,346 72.4,350 Z" fill="#E678A5" fill-opacity="0.2" stroke="none"/>
</g>
<g stroke="#333333" stroke-width="1.07"><line x1="45.3" y1="370.6" x2="48" y2="370.6"/><line x1="45.3" y1="284.28" x2="48" y2="284.28"/><line x1="45.3" y1="197.95" x2="48" y2="197.95"/><line x1="45.3" y1="111.62" x2="48" y2="111.62"/><line x1="45.3" y1="25.3" x2="48" y2="25.3"/><line x1="70.5" y1="373.8" x2="70.5" y2="376.5"/><line x1="182.75" y1="373.8" x2="182.75" y2="376.5"/><line x1="295" y1="373.8" x2="295" y2="376.5"/><line x1="407.25" y1="373.8" x2="407.25" y2="376.5"/><line x1="519.5" y1="373.8" x2="519.5" y2="376.5"/></g>
<g font-family="'Liberation Sans', Arial, sans-serif" font-size="11.9" fill="#4D4D4D" stroke="#4D4D4D" stroke-width="0.25">
<text x="43.4" y="374.9" text-anchor="end">0.00</text>
<text x="43.4" y="288.58" text-anchor="end">0.25</text>
<text x="43.4" y="202.25" text-anchor="end">0.50</text>
<text x="43.4" y="115.92" text-anchor="end">0.75</text>
<text x="43.4" y="29.6" text-anchor="end">1.00</text>
<text x="70.5" y="388.8" text-anchor="middle">0</text>
<text x="182.75" y="388.8" text-anchor="middle">250</text>
<text x="295" y="388.8" text-anchor="middle">500</text>
<text x="407.25" y="388.8" text-anchor="middle">750</text>
<text x="519.5" y="388.8" text-anchor="middle">1000</text>
</g>
<text x="294.7" y="404.7" text-anchor="middle" font-family="'Liberation Sans', Arial, sans-serif" font-size="14.9" fill="#000000" stroke="#000000" stroke-width="0.2">Number of individuals</text>
<text transform="translate(16.2,191.1) rotate(-90)" x="0" y="0" text-anchor="middle" font-family="'Liberation Sans', Arial, sans-serif" font-size="14.67" fill="#000000" stroke="#000000" stroke-width="0.2">Sample coverage</text>
<g font-family="'Liberation Serif', 'Noto Serif CJK SC', serif" font-size="15" fill="#111111" stroke="#111111" stroke-width="0.3">
<text x="143.7" y="76.8">（201，0.92）</text>
<text x="277.7" y="17.0">（473，0.98）</text>
<text x="262.3" y="60.9">（469，0.97）</text>
</g>
<rect x="202.2" y="421.4" width="27" height="13.2" fill="#F2F2F2"/><rect x="202.7" y="421.9" width="26" height="12.2" fill="#F56000" fill-opacity="0.2" stroke="#F56000" stroke-opacity="0.75" stroke-width="1.1"/><line x1="203.8" y1="427.6" x2="227.4" y2="427.6" stroke="#F56000" stroke-width="2.5"/>
<circle cx="215.6" cy="427.7" r="4.4" fill="#F56000"/>
<rect x="266.6" y="421.4" width="27" height="13.2" fill="#F2F2F2"/><rect x="267.1" y="421.9" width="26" height="12.2" fill="#0873BE" fill-opacity="0.2" stroke="#0873BE" stroke-opacity="0.75" stroke-width="1.1"/><line x1="268.2" y1="427.6" x2="291.8" y2="427.6" stroke="#0873BE" stroke-width="2.5"/>
<polygon points="280.3,420.76 286.23,431.02 274.37,431.02" fill="#0873BE"/>
<rect x="326.3" y="421.4" width="27" height="13.2" fill="#F2F2F2"/><rect x="326.8" y="421.9" width="26" height="12.2" fill="#E678A5" fill-opacity="0.2" stroke="#E678A5" stroke-opacity="0.75" stroke-width="1.1"/><line x1="327.9" y1="427.6" x2="351.5" y2="427.6" stroke="#E678A5" stroke-width="2.5"/>
<rect x="335.2" y="423.3" width="8.8" height="8.8" fill="#E678A5"/>
<g font-family="'Liberation Sans', Arial, sans-serif" font-size="11.7" fill="#000000" stroke="#000000" stroke-width="0.2">
<text x="236.3" y="432.6">high</text>
<text x="301.0" y="432.6">low</text>
<text x="361.3" y="432.6">middle</text>
</g>
<rect x="196.4" y="452.8" width="27.6" height="13.8" fill="#F2F2F2"/>
<line x1="199.6" y1="459.6" x2="220.8" y2="459.6" stroke="#000" stroke-width="3" stroke-linecap="round"/>
<rect x="298.9" y="452.7" width="27.4" height="13.8" fill="#F2F2F2"/>
<line x1="300.9" y1="459.6" x2="323.9" y2="459.6" stroke="#000" stroke-width="2.9" stroke-dasharray="5.4 4.8"/>
<g font-family="'Liberation Sans', Arial, sans-serif" font-size="11.7" fill="#000000" stroke="#000000" stroke-width="0.2">
<text x="232.2" y="465.0">Rarefaction</text>
<text x="334.5" y="465.0">Extrapolation</text>
</g>
</svg>
</body></html>
